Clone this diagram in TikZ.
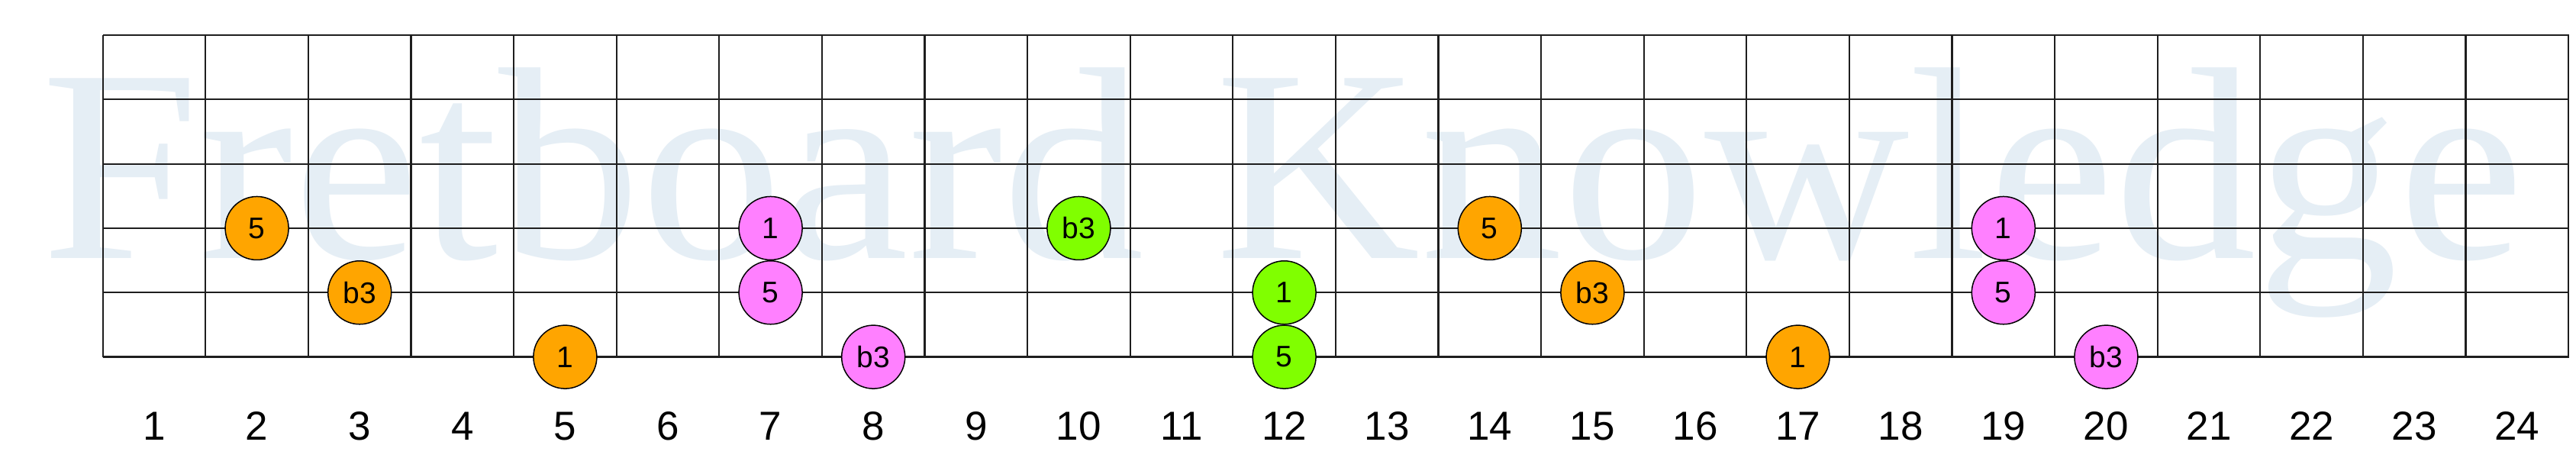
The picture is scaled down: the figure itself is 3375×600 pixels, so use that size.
\documentclass[tikz,border=0pt]{standalone}
\usepackage{fontspec}
\setmainfont{Liberation Sans}
\newfontfamily\wmfont{Liberation Serif}
\definecolor{wmcol}{RGB}{229,238,245}
\definecolor{dotorange}{RGB}{255,165,0}
\definecolor{dotpink}{RGB}{255,128,255}
\definecolor{dotgreen}{RGB}{128,255,0}
\definecolor{gridcol}{RGB}{30,30,30}
\tikzset{
  gridline/.style={draw=gridcol, line width=0.45pt},
  notedot/.style={circle, draw=black, line width=0.3pt, inner sep=0pt, minimum size=16.6pt, font=\fontsize{7.8}{7.8}\selectfont},
  odot/.style={notedot, fill=dotorange},
  pdot/.style={notedot, fill=dotpink},
  gdot/.style={notedot, fill=dotgreen},
  fretnum/.style={anchor=base, inner sep=0pt, font=\fontsize{10.6}{10.6}\selectfont}
}
\begin{document}
\begin{tikzpicture}[x=0.2pt,y=-0.2pt]
\useasboundingbox (0,0) rectangle (3375,600);
\fill[white] (0,0) rectangle (3375,600);
% watermark
\node[anchor=base west, inner sep=0pt, text=wmcol, font=\wmfont\fontsize{72}{72}\selectfont, xscale=1.033] (wm) at (53,338) {Fretboard Knowledge};
% frets
\foreach \i in {0,...,24} {
  \draw[gridline] ({134.7+\i*134.6},46) -- ({134.7+\i*134.6},467.6);
}
% strings
\foreach \j in {0,...,5} {
  \draw[gridline] (134.7,{46+\j*84.32}) -- (3366.1,{46+\j*84.32});
}
% fret numbers
\foreach \i in {1,...,24} {
  \node[fretnum] (n\i) at ({134.7+(\i-0.5)*134.6},576) {\i};
}
% dots
\node[odot] (a1) at ({134.7+1.5*134.6},298.96) {5};
\node[odot] (a2) at ({134.7+2.5*134.6},383.28) {b3};
\node[odot] (a3) at ({134.7+4.5*134.6},467.6) {1};
\node[pdot] (b1) at ({134.7+6.5*134.6},298.96) {1};
\node[pdot] (b2) at ({134.7+6.5*134.6},383.28) {5};
\node[pdot] (b3) at ({134.7+7.5*134.6},467.6) {b3};
\node[gdot] (c1) at ({134.7+9.5*134.6},298.96) {b3};
\node[gdot] (c2) at ({134.7+11.5*134.6},383.28) {1};
\node[gdot] (c3) at ({134.7+11.5*134.6},467.6) {5};
\node[odot] (d1) at ({134.7+13.5*134.6},298.96) {5};
\node[odot] (d2) at ({134.7+14.5*134.6},383.28) {b3};
\node[odot] (d3) at ({134.7+16.5*134.6},467.6) {1};
\node[pdot] (e1) at ({134.7+18.5*134.6},298.96) {1};
\node[pdot] (e2) at ({134.7+18.5*134.6},383.28) {5};
\node[pdot] (e3) at ({134.7+19.5*134.6},467.6) {b3};
\end{tikzpicture}
\end{document}
